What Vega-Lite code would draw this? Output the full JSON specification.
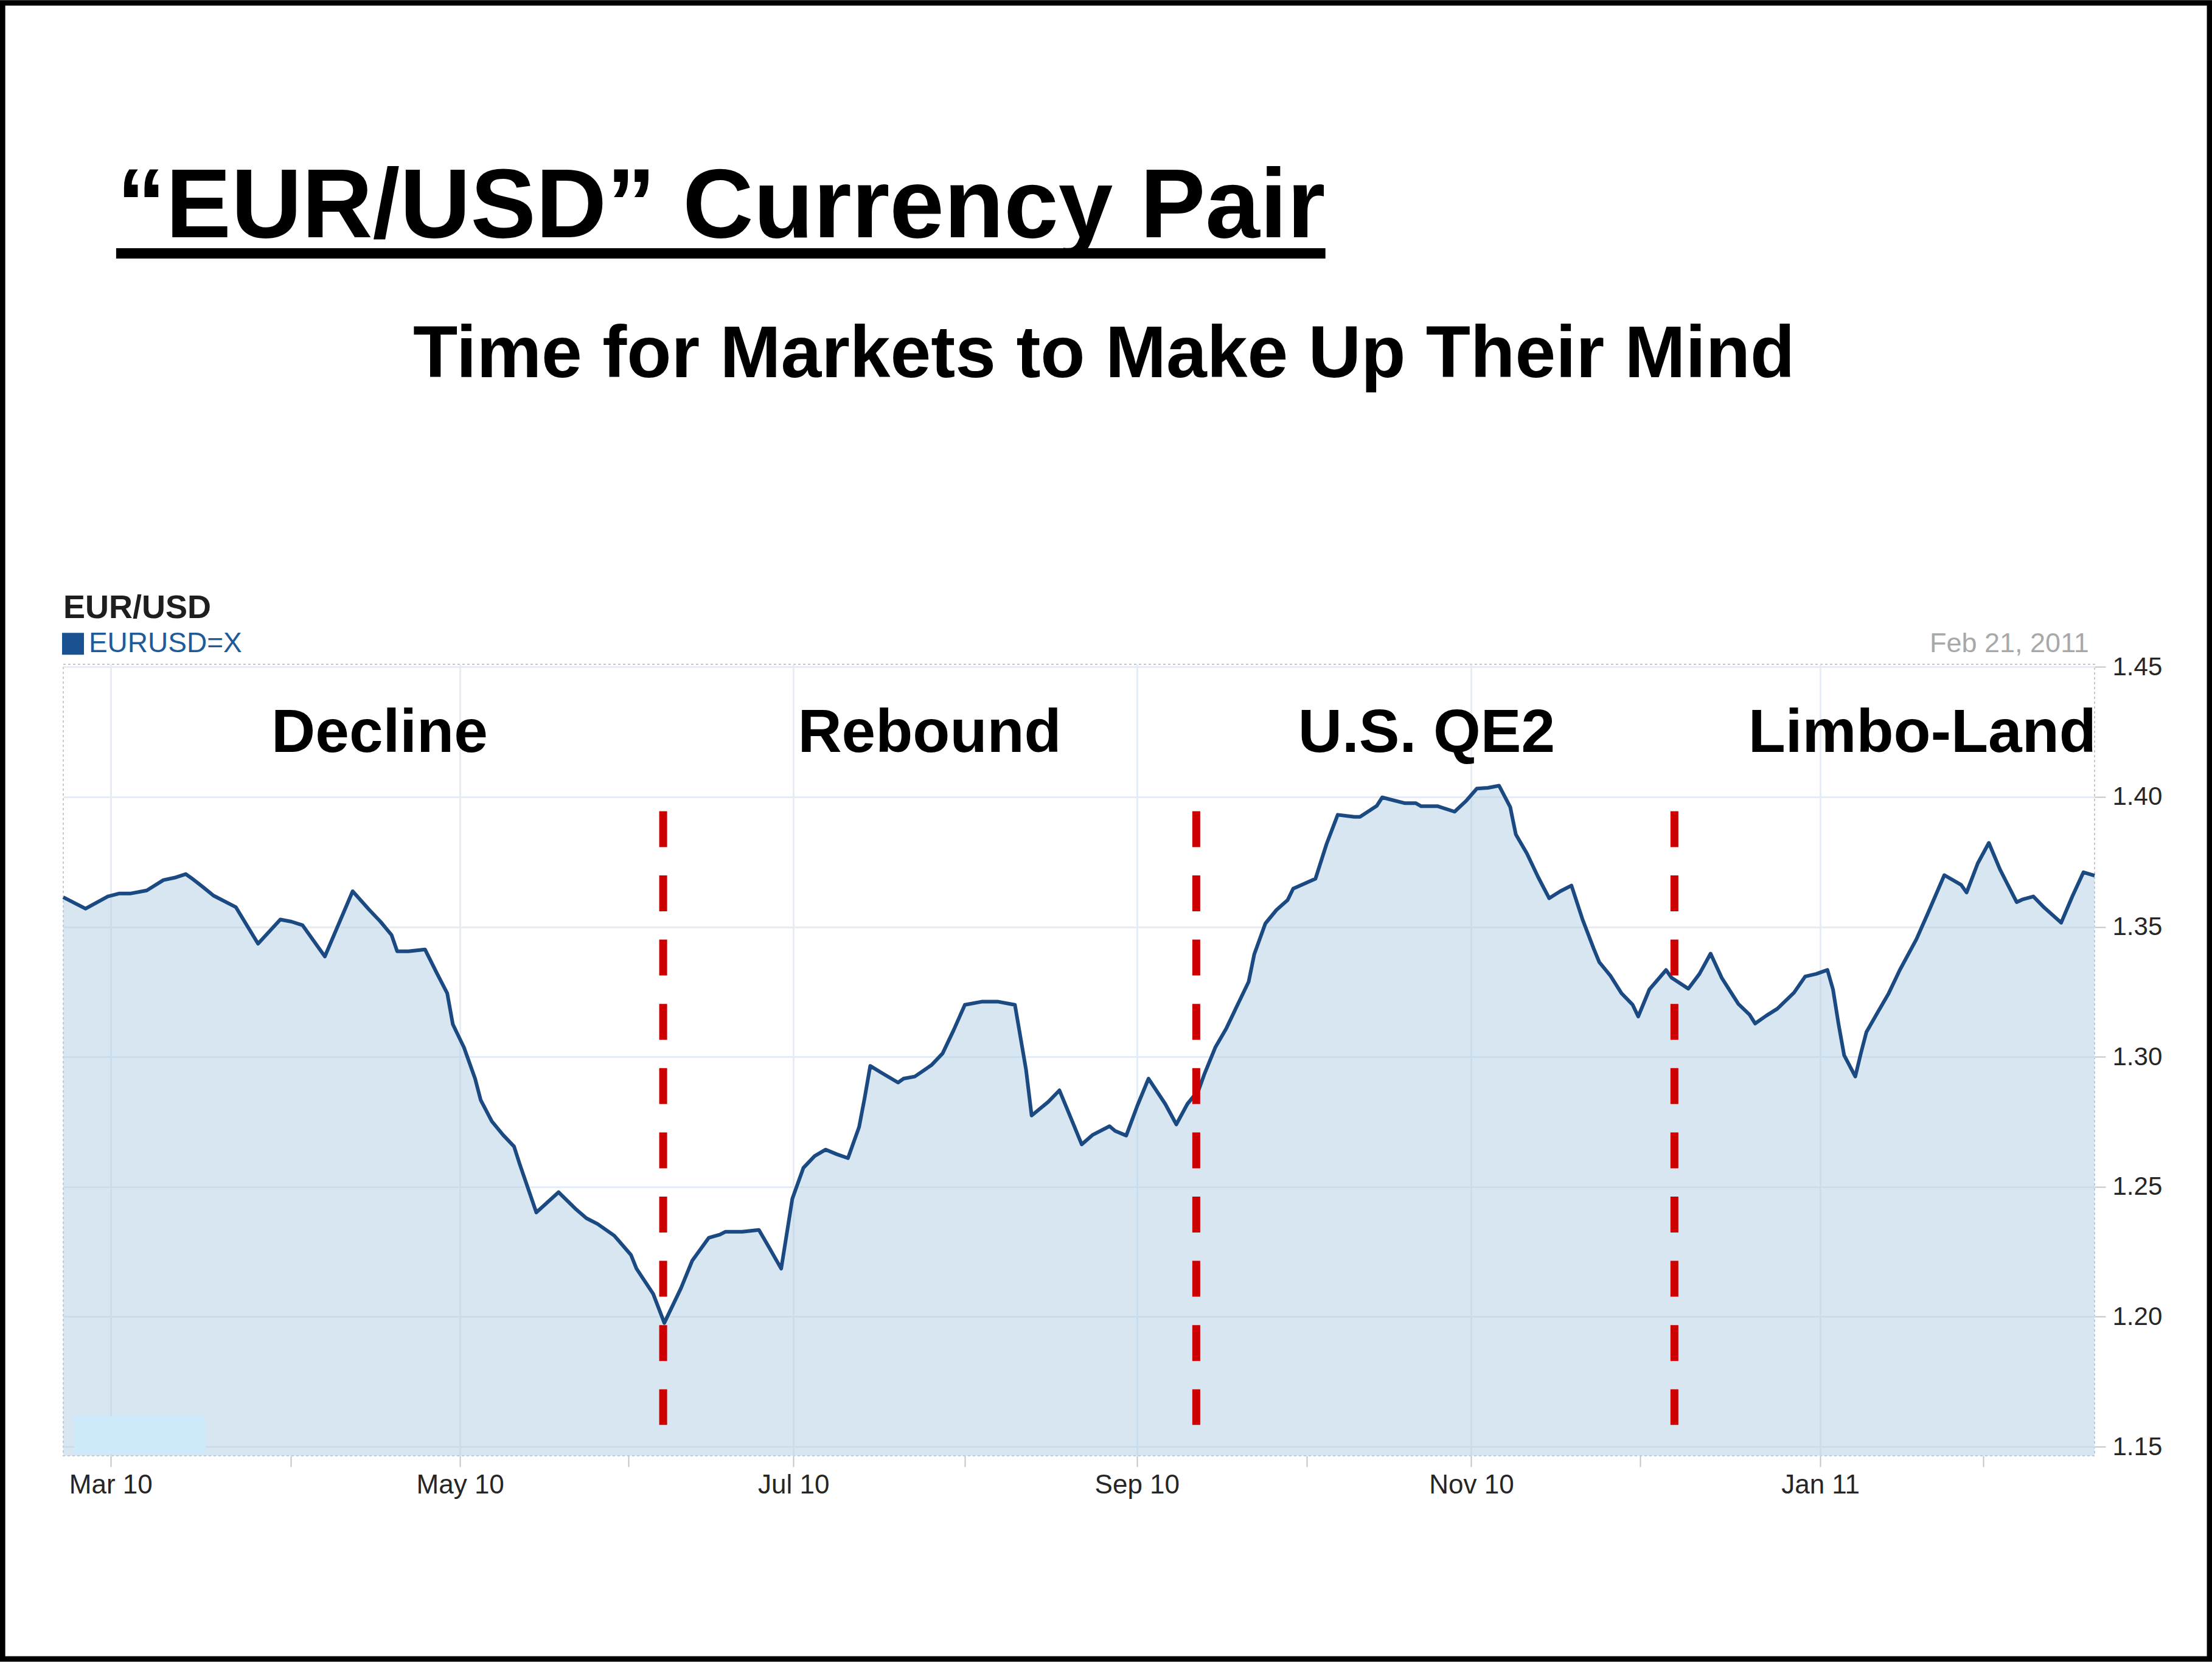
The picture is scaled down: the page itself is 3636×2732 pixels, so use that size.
{
  "$schema": "https://vega.github.io/schema/vega-lite/v6.json",
  "width": 3339,
  "height": 1301,
  "autosize": {"type": "none"},
  "padding": {"left": 104, "top": 1092, "right": 193, "bottom": 339},
  "background": "white",
  "datasets": {
    "prices": [
      {"date": "2010-02-21", "rate": 1.3614}, {"date": "2010-02-25", "rate": 1.3570},
      {"date": "2010-03-01", "rate": 1.3617}, {"date": "2010-03-03", "rate": 1.3628},
      {"date": "2010-03-05", "rate": 1.3628}, {"date": "2010-03-08", "rate": 1.3640},
      {"date": "2010-03-11", "rate": 1.3680}, {"date": "2010-03-13", "rate": 1.3689},
      {"date": "2010-03-15", "rate": 1.3703}, {"date": "2010-03-16", "rate": 1.3688},
      {"date": "2010-03-18", "rate": 1.3655}, {"date": "2010-03-20", "rate": 1.3620},
      {"date": "2010-03-23", "rate": 1.3587}, {"date": "2010-03-24", "rate": 1.3576},
      {"date": "2010-03-28", "rate": 1.3435}, {"date": "2010-04-01", "rate": 1.3528},
      {"date": "2010-04-03", "rate": 1.3520}, {"date": "2010-04-05", "rate": 1.3506},
      {"date": "2010-04-09", "rate": 1.3386}, {"date": "2010-04-14", "rate": 1.3637},
      {"date": "2010-04-17", "rate": 1.3565}, {"date": "2010-04-19", "rate": 1.3520},
      {"date": "2010-04-21", "rate": 1.3468}, {"date": "2010-04-22", "rate": 1.3406},
      {"date": "2010-04-24", "rate": 1.3406}, {"date": "2010-04-27", "rate": 1.3413},
      {"date": "2010-04-29", "rate": 1.3327}, {"date": "2010-05-01", "rate": 1.3244},
      {"date": "2010-05-02", "rate": 1.3125}, {"date": "2010-05-04", "rate": 1.3036},
      {"date": "2010-05-06", "rate": 1.2916}, {"date": "2010-05-07", "rate": 1.2834},
      {"date": "2010-05-09", "rate": 1.2752}, {"date": "2010-05-11", "rate": 1.2700},
      {"date": "2010-05-13", "rate": 1.2655}, {"date": "2010-05-14", "rate": 1.2588},
      {"date": "2010-05-17", "rate": 1.2401}, {"date": "2010-05-21", "rate": 1.2479},
      {"date": "2010-05-24", "rate": 1.2416}, {"date": "2010-05-26", "rate": 1.2379},
      {"date": "2010-05-28", "rate": 1.2357}, {"date": "2010-05-31", "rate": 1.2312},
      {"date": "2010-06-03", "rate": 1.2238}, {"date": "2010-06-04", "rate": 1.2185},
      {"date": "2010-06-07", "rate": 1.2088}, {"date": "2010-06-09", "rate": 1.1976},
      {"date": "2010-06-12", "rate": 1.2110}, {"date": "2010-06-14", "rate": 1.2215},
      {"date": "2010-06-17", "rate": 1.2304}, {"date": "2010-06-19", "rate": 1.2316},
      {"date": "2010-06-20", "rate": 1.2327}, {"date": "2010-06-23", "rate": 1.2327},
      {"date": "2010-06-26", "rate": 1.2334}, {"date": "2010-06-28", "rate": 1.2260},
      {"date": "2010-06-30", "rate": 1.2185}, {"date": "2010-07-01", "rate": 1.2319},
      {"date": "2010-07-02", "rate": 1.2454}, {"date": "2010-07-04", "rate": 1.2573},
      {"date": "2010-07-06", "rate": 1.2618}, {"date": "2010-07-08", "rate": 1.2643},
      {"date": "2010-07-10", "rate": 1.2625}, {"date": "2010-07-12", "rate": 1.2610},
      {"date": "2010-07-14", "rate": 1.2730}, {"date": "2010-07-15", "rate": 1.2842},
      {"date": "2010-07-16", "rate": 1.2965}, {"date": "2010-07-18", "rate": 1.2939},
      {"date": "2010-07-21", "rate": 1.2901}, {"date": "2010-07-22", "rate": 1.2916},
      {"date": "2010-07-24", "rate": 1.2924}, {"date": "2010-07-27", "rate": 1.2968},
      {"date": "2010-07-29", "rate": 1.3013}, {"date": "2010-07-31", "rate": 1.3103},
      {"date": "2010-08-02", "rate": 1.3200}, {"date": "2010-08-05", "rate": 1.3212},
      {"date": "2010-08-08", "rate": 1.3212}, {"date": "2010-08-11", "rate": 1.3200},
      {"date": "2010-08-13", "rate": 1.2950}, {"date": "2010-08-14", "rate": 1.2774},
      {"date": "2010-08-17", "rate": 1.2827}, {"date": "2010-08-19", "rate": 1.2871},
      {"date": "2010-08-21", "rate": 1.2767}, {"date": "2010-08-23", "rate": 1.2663},
      {"date": "2010-08-25", "rate": 1.2700}, {"date": "2010-08-28", "rate": 1.2733},
      {"date": "2010-08-29", "rate": 1.2715}, {"date": "2010-08-31", "rate": 1.2697},
      {"date": "2010-09-02", "rate": 1.2812}, {"date": "2010-09-04", "rate": 1.2916},
      {"date": "2010-09-07", "rate": 1.2819}, {"date": "2010-09-09", "rate": 1.2740},
      {"date": "2010-09-11", "rate": 1.2819}, {"date": "2010-09-13", "rate": 1.2871},
      {"date": "2010-09-14", "rate": 1.2931}, {"date": "2010-09-16", "rate": 1.3036},
      {"date": "2010-09-18", "rate": 1.3110}, {"date": "2010-09-20", "rate": 1.3200},
      {"date": "2010-09-22", "rate": 1.3289}, {"date": "2010-09-23", "rate": 1.3394},
      {"date": "2010-09-25", "rate": 1.3513}, {"date": "2010-09-27", "rate": 1.3565},
      {"date": "2010-09-29", "rate": 1.3603}, {"date": "2010-09-30", "rate": 1.3647},
      {"date": "2010-10-04", "rate": 1.3685}, {"date": "2010-10-06", "rate": 1.3819},
      {"date": "2010-10-08", "rate": 1.3931}, {"date": "2010-10-11", "rate": 1.3923},
      {"date": "2010-10-12", "rate": 1.3923}, {"date": "2010-10-15", "rate": 1.3965},
      {"date": "2010-10-16", "rate": 1.3998}, {"date": "2010-10-20", "rate": 1.3976},
      {"date": "2010-10-22", "rate": 1.3976}, {"date": "2010-10-23", "rate": 1.3964},
      {"date": "2010-10-26", "rate": 1.3964}, {"date": "2010-10-29", "rate": 1.3943},
      {"date": "2010-10-31", "rate": 1.3983}, {"date": "2010-11-02", "rate": 1.4032},
      {"date": "2010-11-04", "rate": 1.4035}, {"date": "2010-11-06", "rate": 1.4043},
      {"date": "2010-11-08", "rate": 1.3961}, {"date": "2010-11-09", "rate": 1.3856},
      {"date": "2010-11-11", "rate": 1.3782}, {"date": "2010-11-13", "rate": 1.3692},
      {"date": "2010-11-15", "rate": 1.3610}, {"date": "2010-11-17", "rate": 1.3637},
      {"date": "2010-11-19", "rate": 1.3659}, {"date": "2010-11-21", "rate": 1.3528},
      {"date": "2010-11-23", "rate": 1.3416}, {"date": "2010-11-24", "rate": 1.3364},
      {"date": "2010-11-26", "rate": 1.3312}, {"date": "2010-11-28", "rate": 1.3244},
      {"date": "2010-11-30", "rate": 1.3200}, {"date": "2010-12-01", "rate": 1.3155},
      {"date": "2010-12-03", "rate": 1.3259}, {"date": "2010-12-06", "rate": 1.3334},
      {"date": "2010-12-07", "rate": 1.3304}, {"date": "2010-12-10", "rate": 1.3262},
      {"date": "2010-12-12", "rate": 1.3319}, {"date": "2010-12-14", "rate": 1.3397},
      {"date": "2010-12-16", "rate": 1.3304}, {"date": "2010-12-19", "rate": 1.3203},
      {"date": "2010-12-21", "rate": 1.3162}, {"date": "2010-12-22", "rate": 1.3128},
      {"date": "2010-12-24", "rate": 1.3158}, {"date": "2010-12-26", "rate": 1.3185},
      {"date": "2010-12-29", "rate": 1.3247}, {"date": "2010-12-31", "rate": 1.3309},
      {"date": "2011-01-02", "rate": 1.3319}, {"date": "2011-01-04", "rate": 1.3334},
      {"date": "2011-01-05", "rate": 1.3259}, {"date": "2011-01-06", "rate": 1.3125},
      {"date": "2011-01-07", "rate": 1.3006}, {"date": "2011-01-09", "rate": 1.2924},
      {"date": "2011-01-10", "rate": 1.3013}, {"date": "2011-01-11", "rate": 1.3095},
      {"date": "2011-01-13", "rate": 1.3170}, {"date": "2011-01-15", "rate": 1.3244},
      {"date": "2011-01-17", "rate": 1.3334}, {"date": "2011-01-20", "rate": 1.3453},
      {"date": "2011-01-22", "rate": 1.3550}, {"date": "2011-01-25", "rate": 1.3699},
      {"date": "2011-01-28", "rate": 1.3662}, {"date": "2011-01-29", "rate": 1.3632},
      {"date": "2011-01-31", "rate": 1.3744}, {"date": "2011-02-02", "rate": 1.3823},
      {"date": "2011-02-04", "rate": 1.3721}, {"date": "2011-02-07", "rate": 1.3595},
      {"date": "2011-02-08", "rate": 1.3605}, {"date": "2011-02-10", "rate": 1.3617},
      {"date": "2011-02-12", "rate": 1.3573}, {"date": "2011-02-15", "rate": 1.3516},
      {"date": "2011-02-17", "rate": 1.3617}, {"date": "2011-02-19", "rate": 1.3710},
      {"date": "2011-02-21", "rate": 1.3697}
    ],
    "breaks": [
      {"date": "2010-06-08T19:00:00Z"},
      {"date": "2010-09-12T14:00:00Z"},
      {"date": "2010-12-07T12:00:00Z"}
    ],
    "phases": [
      {"date": "2010-04-18T20:00:00Z", "label": "Decline"},
      {"date": "2010-07-26T16:00:00Z", "label": "Rebound"},
      {"date": "2010-10-23T23:00:00Z", "label": "U.S. QE2"},
      {"date": "2011-01-21T01:00:00Z", "label": "Limbo-Land"}
    ]
  },
  "layer": [
    {
      "data": {"name": "prices"},
      "mark": {"type": "area", "color": "#afcde3", "opacity": 0.5},
      "encoding": {
        "x": {
          "field": "date",
          "type": "temporal",
          "scale": {
            "type": "utc",
            "domain": [
              {"year": 2010, "month": 2, "date": 21, "utc": true},
              {"year": 2011, "month": 2, "date": 21, "utc": true}
            ]
          },
          "axis": {
            "orient": "bottom",
            "title": null,
            "domain": false,
            "values": [
              {"year": 2010, "month": 3, "date": 1, "hours": 12, "utc": true},
              {"year": 2010, "month": 4, "date": 2, "hours": 21, "utc": true},
              {"year": 2010, "month": 5, "date": 3, "hours": 7, "utc": true},
              {"year": 2010, "month": 6, "date": 2, "hours": 14, "utc": true},
              {"year": 2010, "month": 7, "date": 2, "hours": 5, "utc": true},
              {"year": 2010, "month": 8, "date": 2, "utc": true},
              {"year": 2010, "month": 9, "date": 1, "hours": 22, "utc": true},
              {"year": 2010, "month": 10, "date": 2, "hours": 10, "utc": true},
              {"year": 2010, "month": 11, "date": 1, "utc": true},
              {"year": 2010, "month": 12, "date": 1, "hours": 7, "utc": true},
              {"year": 2011, "month": 1, "date": 2, "hours": 17, "utc": true},
              {"year": 2011, "month": 2, "date": 1, "utc": true}
            ],
            "labelExpr": "utcmonth(datum.value) % 2 == 0 ? utcFormat(datum.value, '%b %y') : ''",
            "labelFont": "Liberation Sans",
            "labelFontSize": 44,
            "labelColor": "#262626",
            "labelPadding": 8,
            "labelOverlap": false,
            "labelFlush": false,
            "tickSize": 18,
            "tickWidth": 2,
            "tickColor": "#c4c4c4",
            "gridColor": "#e4ecf5",
            "gridWidth": 3,
            "gridOpacity": {"condition": {"test": "utcmonth(datum.value) % 2 == 0", "value": 1}, "value": 0}
          }
        },
        "y": {
          "field": "rate",
          "type": "quantitative",
          "scale": {"domain": [1.1465, 1.451], "nice": false, "zero": false},
          "axis": {
            "orient": "right",
            "title": null,
            "domain": false,
            "values": [1.15, 1.2, 1.25, 1.3, 1.35, 1.4, 1.45],
            "format": ".2f",
            "labelFont": "Liberation Sans",
            "labelFontSize": 42,
            "labelColor": "#262626",
            "labelPadding": 11,
            "tickSize": 18,
            "tickWidth": 2,
            "tickColor": "#c4c4c4",
            "gridColor": "#e4ecf5",
            "gridWidth": 3
          }
        },
        "y2": {"datum": 1.1465}
      }
    },
    {
      "data": {"name": "prices"},
      "mark": {"type": "line", "color": "#1b4a82", "strokeWidth": 6, "strokeJoin": "round"},
      "encoding": {
        "x": {"field": "date", "type": "temporal"},
        "y": {"field": "rate", "type": "quantitative"}
      }
    },
    {
      "data": {"values": [{"item": "navigator"}]},
      "mark": {"type": "rect", "color": "#cdeafb"},
      "encoding": {
        "x": {"datum": {"year": 2010, "month": 2, "date": 22, "hours": 23, "utc": true}, "type": "temporal"},
        "x2": {"datum": {"year": 2010, "month": 3, "date": 18, "hours": 14, "utc": true}},
        "y": {"datum": 1.1617},
        "y2": {"datum": 1.1472}
      }
    },
    {
      "data": {"name": "breaks"},
      "mark": {"type": "rule", "color": "#cc0000", "strokeWidth": 13, "strokeDash": [59, 46.6]},
      "encoding": {
        "x": {"field": "date", "type": "temporal"},
        "y": {"datum": 1.3945},
        "y2": {"datum": 1.1584}
      }
    },
    {
      "data": {"name": "phases"},
      "mark": {"type": "text", "font": "Liberation Sans", "fontWeight": "bold", "fontSize": 100, "align": "center", "baseline": "alphabetic", "color": "black"},
      "encoding": {
        "x": {"field": "date", "type": "temporal"},
        "y": {"datum": 1.4172},
        "text": {"field": "label"}
      }
    },
    {
      "data": {"values": [{"label": "“EUR/USD” Currency Pair"}]},
      "mark": {"type": "text", "font": "Liberation Sans", "fontWeight": "bold", "fontSize": 161, "align": "left", "baseline": "alphabetic", "color": "black"},
      "encoding": {
        "x": {"datum": {"year": 2010, "month": 3, "date": 2, "hours": 15, "utc": true}, "type": "temporal"},
        "y": {"datum": 1.6152},
        "text": {"field": "label"}
      }
    },
    {
      "data": {"values": [{"item": "underline"}]},
      "mark": {"type": "rule", "color": "black", "strokeWidth": 17},
      "encoding": {
        "x": {"datum": {"year": 2010, "month": 3, "date": 2, "hours": 12, "utc": true}, "type": "temporal"},
        "x2": {"datum": {"year": 2010, "month": 10, "date": 5, "hours": 19, "utc": true}},
        "y": {"datum": 1.6091}
      }
    },
    {
      "data": {"values": [{"label": "Time for Markets to Make Up Their Mind"}]},
      "mark": {"type": "text", "font": "Liberation Sans", "fontWeight": "bold", "fontSize": 120, "align": "center", "baseline": "alphabetic", "color": "black"},
      "encoding": {
        "x": {"datum": {"year": 2010, "month": 8, "date": 27, "utc": true}, "type": "temporal"},
        "y": {"datum": 1.5614},
        "text": {"field": "label"}
      }
    },
    {
      "data": {"values": [{"label": "EUR/USD"}]},
      "mark": {"type": "text", "font": "Liberation Sans", "fontWeight": "bold", "fontSize": 54, "align": "left", "baseline": "alphabetic", "color": "#1e1e1e"},
      "encoding": {
        "x": {"datum": {"year": 2010, "month": 2, "date": 21, "utc": true}, "type": "temporal"},
        "y": {"datum": 1.4687},
        "text": {"field": "label"}
      }
    },
    {
      "data": {"values": [{"label": "EURUSD=X"}]},
      "mark": {"type": "point", "shape": "square", "filled": true, "size": 1300, "color": "#1a5291", "opacity": 1},
      "encoding": {
        "x": {"datum": {"year": 2010, "month": 2, "date": 22, "hours": 18, "utc": true}, "type": "temporal"},
        "y": {"datum": 1.4589}
      }
    },
    {
      "data": {"values": [{"label": "EURUSD=X"}]},
      "mark": {"type": "text", "font": "Liberation Sans", "fontSize": 46, "align": "left", "baseline": "alphabetic", "color": "#1f5a99"},
      "encoding": {
        "x": {"datum": {"year": 2010, "month": 2, "date": 25, "hours": 14, "utc": true}, "type": "temporal"},
        "y": {"datum": 1.4556},
        "text": {"field": "label"}
      }
    },
    {
      "data": {"values": [{"label": "Feb 21, 2011"}]},
      "mark": {"type": "text", "font": "Liberation Sans", "fontSize": 45, "align": "right", "baseline": "alphabetic", "color": "#a8a8a8"},
      "encoding": {
        "x": {"datum": {"year": 2011, "month": 2, "date": 20, "utc": true}, "type": "temporal"},
        "y": {"datum": 1.4556},
        "text": {"field": "label"}
      }
    },
    {
      "data": {"values": [{"item": "frame"}]},
      "mark": {"type": "rect", "filled": false, "stroke": "black", "strokeWidth": 9},
      "encoding": {
        "x": {"datum": {"year": 2010, "month": 2, "date": 10, "hours": 2, "utc": true}, "type": "temporal"},
        "x2": {"datum": {"year": 2011, "month": 3, "date": 13, "hours": 16, "utc": true}},
        "y": {"datum": 1.7055},
        "y2": {"datum": 1.0683}
      }
    }
  ],
  "config": {
    "font": "Liberation Sans",
    "view": {"stroke": "#c8c8c8", "strokeWidth": 2, "strokeDash": [4, 4]}
  }
}
